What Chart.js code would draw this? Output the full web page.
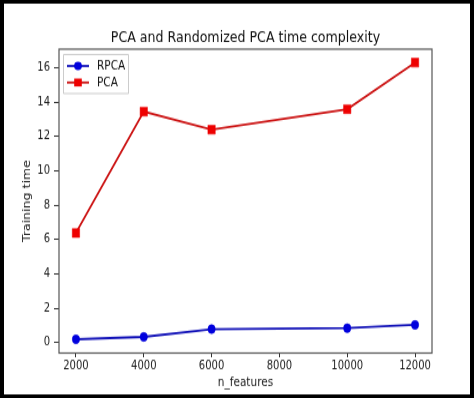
<!DOCTYPE html>
<html>
<head>
<meta charset="utf-8">
<title>PCA and Randomized PCA time complexity</title>
<script src="https://cdn.jsdelivr.net/npm/chart.js"></script>
<style>
  html, body { margin:0; padding:0; background:#fff; overflow:hidden; }
  #wrap { width:474px; height:398px; position:relative; overflow:hidden; }
  /* the reference picture is a little stretched vertically, so is this one */
  #chart { position:absolute; left:0; top:0; transform-origin:0 0; transform:scaleY(1.19879); }
</style>
</head>
<body>
<div id="wrap"><canvas id="chart" width="474" height="332"></canvas></div>
<script>
// ---- data ----
const nFeatures = [2000, 4000, 6000, 10000, 12000];
const rpcaTime = [0.2, 0.34, 0.79, 0.85, 1.04];
const pcaTime = [6.38, 13.44, 12.39, 13.58, 16.29];
const xTicks = [2000, 4000, 6000, 8000, 10000, 12000];
const yTicks = [0, 2, 4, 6, 8, 10, 12, 14, 16];

const FONT = "'DejaVu Sans', sans-serif";
const BLUE = '#0000dd';
const BLUE_LINE = '#1212b8';
const RED = '#ee0000';
const RED_LINE = '#cc1414';

// white background, outer black frame, axes box, title and legend
const decor = {
  id: 'decor',
  beforeDraw(chart) {
    const c = chart.ctx;
    c.save();
    c.fillStyle = '#fff';
    c.fillRect(0, 0, chart.width, chart.height);
    c.restore();
  },
  afterDraw(chart) {
    const c = chart.ctx;
    const a = chart.chartArea;
    const w = chart.width, h = chart.height;
    c.save();
    // outer frame
    c.fillStyle = '#000';
    c.fillRect(0, 0, w, 3);
    c.fillRect(0, h - 3, w, 3);
    c.fillRect(0, 0, 4, h);
    c.fillRect(w - 4, 0, 4, h);
    // axes box
    c.strokeStyle = '#555';
    c.lineWidth = 1.2;
    c.strokeRect(a.left, a.top, a.right - a.left, a.bottom - a.top);
    // title
    c.fillStyle = '#111';
    c.font = '12.6px ' + FONT;
    c.textAlign = 'center';
    c.textBaseline = 'middle';
    c.fillText('PCA and Randomized PCA time complexity', (a.left + a.right) / 2, 31.5);
    // legend
    const lx = a.left + 4, ly = a.top + 4.5;
    c.fillStyle = 'rgba(255,255,255,0.8)';
    c.strokeStyle = '#ccc';
    c.lineWidth = 1;
    c.beginPath();
    c.rect(lx + 0.5, ly, 65, 32.5);
    c.fill();
    c.stroke();
    chart.data.datasets.forEach((ds, i) => {
      const y = ly + 9.5 + i * 13.8;
      c.strokeStyle = ds.borderColor;
      c.lineWidth = 1.8;
      c.beginPath();
      c.moveTo(lx + 4, y);
      c.lineTo(lx + 26, y);
      c.stroke();
      c.fillStyle = ds.pointBackgroundColor;
      if (ds.pointStyle === 'rect') {
        c.fillRect(lx + 15 - 3.8, y - 3.3, 7.6, 6.6);
      } else {
        c.beginPath();
        c.ellipse(lx + 15, y, 3.9, 3.4, 0, 0, Math.PI * 2);
        c.fill();
      }
      c.fillStyle = '#111';
      c.font = '10.5px ' + FONT;
      c.textAlign = 'left';
      c.fillText(ds.label, lx + 34, y);
    });
    c.restore();
  }
};

new Chart(document.getElementById('chart'), {
  type: 'line',
  data: {
    datasets: [
      {
        label: 'RPCA',
        data: nFeatures.map((x, i) => ({ x, y: rpcaTime[i] })),
        borderColor: BLUE_LINE,
        backgroundColor: BLUE,
        pointBackgroundColor: BLUE,
        pointBorderColor: BLUE,
        pointBorderWidth: 0.5,
        borderWidth: 1.8,
        pointStyle: 'circle',
        pointRadius: 3.7,
        tension: 0
      },
      {
        label: 'PCA',
        data: nFeatures.map((x, i) => ({ x, y: pcaTime[i] })),
        borderColor: RED_LINE,
        backgroundColor: RED,
        pointBackgroundColor: RED,
        pointBorderColor: RED,
        pointBorderWidth: 0.5,
        borderWidth: 1.8,
        pointStyle: 'rect',
        pointRadius: 5.2,
        tension: 0
      }
    ]
  },
  plugins: [decor],
  options: {
    responsive: false,
    animation: false,
    layout: { padding: { top: 41, right: 42, left: 0, bottom: 0 } },
    plugins: {
      legend: { display: false },
      title: { display: false },
      tooltip: { enabled: false }
    },
    scales: {
      x: {
        type: 'linear',
        min: 1500,
        max: 12500,
        afterBuildTicks: s => { s.ticks = xTicks.map(v => ({ value: v })); },
        afterFit: s => { s.height = 37.5; },
        border: { display: false },
        grid: { drawOnChartArea: false, tickLength: 3.5, color: '#333' },
        ticks: { font: { family: FONT, size: 10 }, color: '#222', padding: 1.5, maxRotation: 0, callback: v => String(v) },
        title: { display: true, text: 'n_features', font: { family: FONT, size: 10.5 }, color: '#222', padding: { top: 0, bottom: 6.5 } }
      },
      y: {
        min: -0.6,
        max: 17.07,
        afterBuildTicks: s => { s.ticks = yTicks.map(v => ({ value: v })); },
        afterFit: s => { s.width = 59; },
        border: { display: false },
        grid: { drawOnChartArea: false, tickLength: 5, color: '#333' },
        ticks: { font: { family: FONT, size: 10 }, color: '#222', padding: 4, callback: v => String(v) },
        title: { display: true, text: 'Training time', font: { family: FONT, size: 10.5 }, color: '#222', padding: { top: 20.5, bottom: 0 } }
      }
    }
  }
});
</script>
</body>
</html>
